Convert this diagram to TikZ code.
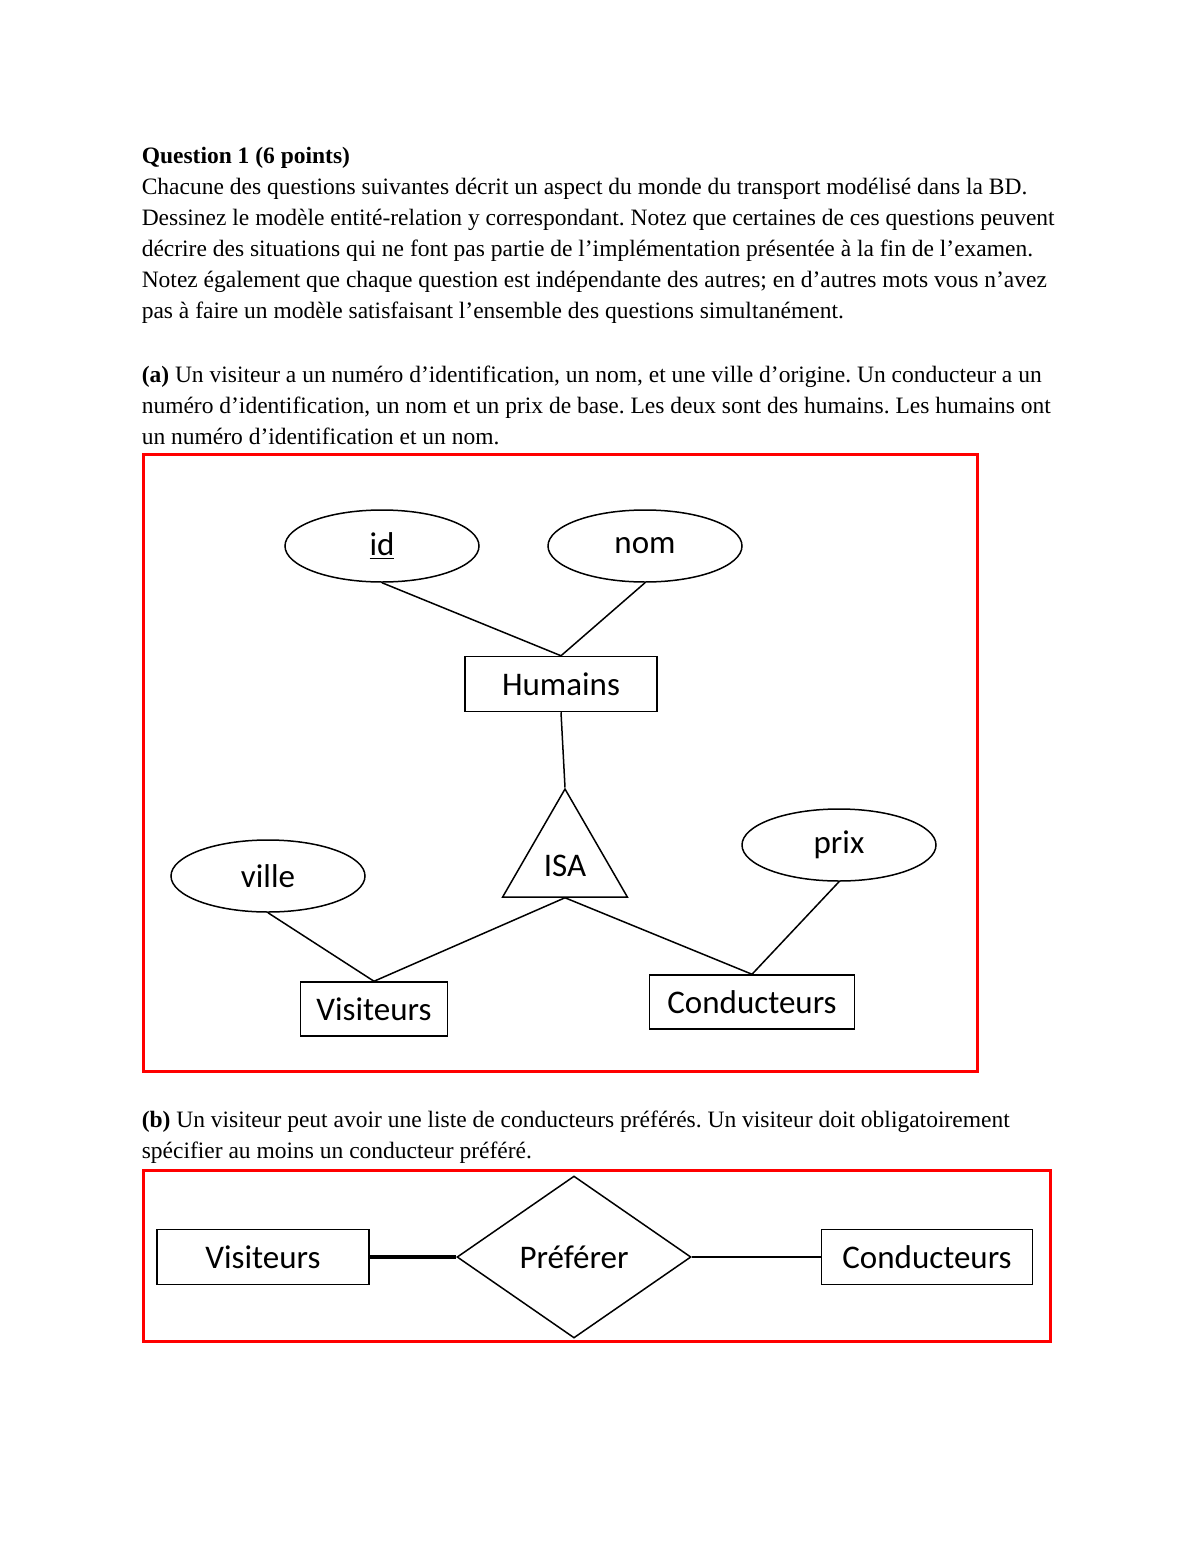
\documentclass[tikz,border=0pt]{standalone}
\usepackage{fontspec}
\setmainfont{Liberation Serif}
\newfontfamily\erfont{Carlito}
\usetikzlibrary{shapes.geometric,positioning}
\frenchspacing
\tikzset{
	thick,
	erfnt/.style = {font=\erfont\fontsize{16.5}{20}\selectfont},
	entite/.style = {
			draw, rectangle, erfnt,
			inner sep = 0pt,
			minimum height = 27.5pt,
		},
	attribut/.style = {
			draw, ellipse, erfnt,
			inner sep = 0pt,
			minimum width = 97pt,
			minimum height = 36pt,
		},
	relation/.style = {
			draw, diamond, erfnt,
			inner sep = 0pt,
			minimum width = 117pt,
			minimum height = 81pt,
		},
	isa/.style = {
			draw, regular polygon, regular polygon sides=3, erfnt,
			inner sep = 0pt,
			text height = 15.6pt,
			minimum size = 72pt,
		},
	cadre/.style = {draw=red, line width=1.5pt},
	ligne/.style = {anchor=base west, inner sep=0pt,
			font=\fontsize{11.75}{14}\selectfont},
}

\begin{document}
\begin{tikzpicture}[x=0.5pt, y=-0.5pt, line width=0.75pt]
		\useasboundingbox (0,0) rectangle (1200,1553);

		\foreach \y/\txt in {
		163/{\textbf{Question 1 (6 points)}},
		194/{Chacune des questions suivantes décrit un aspect du monde du transport modélisé dans la BD.},
		225/{Dessinez le modèle entité-relation y correspondant. Notez que certaines de ces questions peuvent},
		256/{décrire des situations qui ne font pas partie de l’implémentation présentée à la fin de l’examen.},
		287/{Notez également que chaque question est indépendante des autres; en d’autres mots vous n’avez},
		318/{pas à faire un modèle satisfaisant l’ensemble des questions simultanément.},
		382/{\textbf{(a)} Un visiteur a un numéro d’identification, un nom, et une ville d’origine. Un conducteur a un},
		413/{numéro d’identification, un nom et un prix de base. Les deux sont des humains. Les humains ont},
		444/{un numéro d’identification et un nom.},
		1127/{\textbf{(b)} Un visiteur peut avoir une liste de conducteurs préférés. Un visiteur doit obligatoirement},
		1158/{spécifier au moins un conducteur préféré.}
		} {
		\node[ligne] (ligne\y) at (141,\y) {\txt};
		}

		\draw[cadre] (143,454) rectangle (977,1071);
		\draw[cadre] (143,1170) rectangle (1050,1341);

		\node[attribut] (id) at (382,546) {\underline{id}};
		\node[attribut] (nom) at (645,546) {nom};
		\node[entite, minimum width=96pt] (humains) at (561,684) {Humains};
		\node[isa] (isa) at (565,861) {ISA};
		\node[attribut] (ville) at (268,876) {ville};
		\node[attribut] (prix) at (839,845) {prix};
		\node[entite, minimum width=73.5pt, minimum height=27pt] (visiteurs) at (374,1009) {Visiteurs};
		\node[entite, minimum width=102.5pt, minimum height=27pt] (conducteurs) at (752,1002) {Conducteurs};

		\draw (id.south) -- (humains.north);
		\draw (nom.south) -- (humains.north);
		\draw (humains.south) -- (isa.corner 1);
		\draw (ville.south) -- (visiteurs.north);
		\draw (isa.side 2) -- (visiteurs.north);
		\draw (isa.side 2) -- (conducteurs.north);
		\draw (prix.south) -- (conducteurs.north);

		\node[entite, minimum width=106pt] (visiteursb) at (263,1257) {Visiteurs};
		\node[relation] (preferer) at (574,1257) {Préférer};
		\node[entite, minimum width=105.5pt] (conducteursb) at (927,1257) {Conducteurs};

		\draw[line width=2pt] (visiteursb.east) -- (preferer.west);
		\draw (preferer.east) -- (conducteursb.west);
	\end{tikzpicture}
\end{document}
